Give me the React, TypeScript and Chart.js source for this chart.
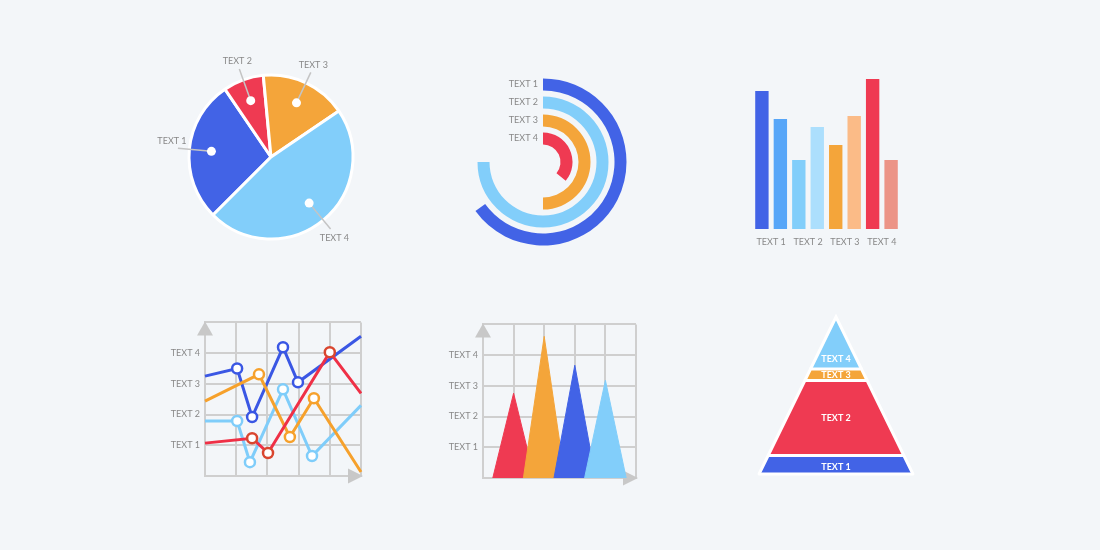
import React, { useEffect, useRef } from "react";
import { Chart, registerables } from "chart.js";

Chart.register(...registerables);
Chart.defaults.font.family = "Lato, 'Open Sans', sans-serif";
Chart.defaults.color = "#8a8a8a";

const BG = "#f3f6f9";
const GRID = "#cfcfcf";
const LABEL = "#888888";

const BLUE = "#4263e6";
const MID_BLUE = "#57a6f8";
const LIGHT_BLUE = "#82cefa";
const PALE_BLUE = "#acdffd";
const ORANGE = "#f4a53a";
const PEACH = "#fbbb87";
const RED = "#ef3a52";
const SALMON = "#ec9487";

// pie (top left)
const pieLabels = ["TEXT 1", "TEXT 2", "TEXT 3", "TEXT 4"];
const pieValues = [28, 8, 17, 47];

// rings (top middle), share of a full turn in %
const ringLabels = ["TEXT 1", "TEXT 2", "TEXT 3", "TEXT 4"];
const ringValues = [65, 75, 50, 36];

// bars (top right)
const barCategories = ["TEXT 1", "TEXT 2", "TEXT 3", "TEXT 4"];
const barSeriesA = [138, 69, 84, 150];
const barSeriesB = [110, 102, 113, 69];

// lines (bottom left)
const yTickLabels = ["TEXT 1", "TEXT 2", "TEXT 3", "TEXT 4"];
const blueLine = [
  { x: 0, y: 3.25 }, { x: 1.03, y: 3.5 }, { x: 1.51, y: 1.92 },
  { x: 2.5, y: 4.19 }, { x: 2.98, y: 3.05 }, { x: 5, y: 4.55 },
];
const orangeLine = [
  { x: 0, y: 2.44 }, { x: 1.73, y: 3.31 }, { x: 2.72, y: 1.27 },
  { x: 3.49, y: 2.53 }, { x: 5, y: 0.13 },
];
const lightLine = [
  { x: 0, y: 1.79 }, { x: 1.03, y: 1.79 }, { x: 1.44, y: 0.45 },
  { x: 2.5, y: 2.82 }, { x: 3.43, y: 0.65 }, { x: 5, y: 2.3 },
];
const redLine = [
  { x: 0, y: 1.07 }, { x: 1.51, y: 1.23 }, { x: 2.02, y: 0.75 },
  { x: 4.0, y: 4.03 }, { x: 5, y: 2.69 },
];

// peaks (bottom middle)
const peakX = [1, 2, 3, 4];
const peakHeights = [2.76, 4.61, 3.67, 3.18];

// pyramid (bottom right), height of each layer from the base up
const pyramidLabels = ["TEXT 1", "TEXT 2", "TEXT 3", "TEXT 4"];
const pyramidValues = [18.5, 75, 11.5, 52];

const baseOptions = {
  animation: false,
  responsive: true,
  maintainAspectRatio: false,
  events: [],
  plugins: { legend: { display: false }, tooltip: { enabled: false } },
};

// arrows at the ends of the axes
const axisArrows = {
  id: "axisArrows",
  beforeDatasetsDraw(chart: any) {
    const { ctx, chartArea } = chart;
    const { left, top, right, bottom } = chartArea;
    ctx.save();
    ctx.fillStyle = "#c8c8c8";
    ctx.beginPath();
    ctx.moveTo(left, top - 1);
    ctx.lineTo(left + 8, top + 13);
    ctx.lineTo(left - 8, top + 13);
    ctx.closePath();
    ctx.fill();
    ctx.beginPath();
    ctx.moveTo(right + 2, bottom);
    ctx.lineTo(right - 13, bottom - 7.5);
    ctx.lineTo(right - 13, bottom + 7.5);
    ctx.closePath();
    ctx.fill();
    ctx.restore();
  },
};

const pieLabelPlugin = {
  id: "pieLabels",
  afterDatasetsDraw(chart: any) {
    const ctx = chart.ctx;
    const meta = chart.getDatasetMeta(0);
    meta.data.forEach((arc: any, i: number) => {
      const { x, y, startAngle, endAngle, outerRadius } = arc.getProps(
        ["x", "y", "startAngle", "endAngle", "outerRadius"],
        true
      );
      const mid = (startAngle + endAngle) / 2;
      const cx = Math.cos(mid);
      const cy = Math.sin(mid);
      const r = outerRadius;
      const endX = x + cx * r * 1.14;
      const endY = y + cy * r * 1.14;
      ctx.save();
      ctx.strokeStyle = "#c4c4c4";
      ctx.lineWidth = 1.5;
      ctx.beginPath();
      ctx.moveTo(x + cx * r * 0.73, y + cy * r * 0.73);
      ctx.lineTo(endX, endY);
      ctx.stroke();
      ctx.fillStyle = "#ffffff";
      ctx.beginPath();
      ctx.arc(x + cx * r * 0.73, y + cy * r * 0.73, 4.5, 0, Math.PI * 2);
      ctx.fill();
      ctx.fillStyle = LABEL;
      ctx.font = "9px Lato";
      ctx.textAlign = "center";
      ctx.textBaseline = "middle";
      ctx.fillText(
        chart.data.labels[i],
        endX + cx * 6,
        endY + (cy < 0 ? -7.5 : 9)
      );
      ctx.restore();
    });
  },
};

const ringLabelPlugin = {
  id: "ringLabels",
  afterDatasetsDraw(chart: any) {
    const ctx = chart.ctx;
    chart.data.datasets.forEach((ds: any, i: number) => {
      if (!ds.label) return;
      const arc: any = chart.getDatasetMeta(i).data[0];
      const mid = (arc.innerRadius + arc.outerRadius) / 2;
      ctx.save();
      ctx.fillStyle = LABEL;
      ctx.font = "9px Lato";
      ctx.textAlign = "right";
      ctx.textBaseline = "middle";
      ctx.fillText(ds.label, arc.x - 5, arc.y - mid);
      ctx.restore();
    });
  },
};

const pyramidLabelAt = [0.4, 0.5, 0.5, 0.2];
const pyramidLabelPlugin = {
  id: "pyramidLabels",
  afterDatasetsDraw(chart: any) {
    const ctx = chart.ctx;
    const { x: xs, y: ys } = chart.scales;
    const meta = chart.getDatasetMeta(0);
    const first: any = meta.data[0];
    const last: any = meta.data[meta.data.length - 1];
    // white outline along the base
    ctx.save();
    ctx.strokeStyle = "#ffffff";
    ctx.lineWidth = 3;
    ctx.lineCap = "round";
    ctx.beginPath();
    ctx.moveTo(first.x, first.y);
    ctx.lineTo(last.x, last.y);
    ctx.stroke();
    ctx.restore();
    let base = 0;
    pyramidValues.forEach((v, i) => {
      const py = ys.getPixelForValue(base + v * pyramidLabelAt[i]);
      ctx.save();
      ctx.fillStyle = "#ffffff";
      ctx.font = "bold 9px Lato";
      ctx.textAlign = "center";
      ctx.textBaseline = "middle";
      ctx.fillText(pyramidLabels[i], xs.getPixelForValue(0), py);
      ctx.restore();
      base += v;
    });
  },
};

const gridAxis = (extra: any) => ({
  type: "linear",
  min: 0,
  max: 5,
  grid: { color: GRID, lineWidth: 2, drawTicks: false },
  border: { color: GRID, width: 2 },
  ...extra,
});

const yTicks = {
  stepSize: 1,
  padding: 5,
  color: LABEL,
  font: { size: 9 },
  callback: (v: number) => yTickLabels[v - 1] ?? "",
};

function pieConfig(): any {
  return {
    type: "pie",
    data: {
      labels: pieLabels,
      datasets: [
        {
          data: pieValues,
          backgroundColor: [BLUE, RED, ORANGE, LIGHT_BLUE],
          borderColor: "#ffffff",
          borderWidth: 3,
        },
      ],
    },
    options: {
      ...baseOptions,
      rotation: -135,
      layout: { padding: { left: 56.5, right: 56.5, top: 46.5, bottom: 46.5 } },
    },
    plugins: [pieLabelPlugin],
  };
}

function ringConfig(): any {
  const colors = [BLUE, LIGHT_BLUE, ORANGE, RED];
  const datasets: any[] = [];
  ringValues.forEach((v, i) => {
    datasets.push({
      label: ringLabels[i],
      data: [v, 100 - v],
      backgroundColor: [colors[i], "transparent"],
      borderWidth: 0,
      weight: 12,
    });
    if (i < ringValues.length - 1) {
      datasets.push({
        label: "",
        data: [1],
        backgroundColor: ["transparent"],
        borderWidth: 0,
        weight: 6,
      });
    }
  });
  return {
    type: "doughnut",
    data: { labels: ["value", "rest"], datasets },
    options: {
      ...baseOptions,
      cutout: 17.5,
      layout: { padding: 6.5 },
    },
    plugins: [ringLabelPlugin],
  };
}

function barConfig(): any {
  return {
    type: "bar",
    data: {
      labels: barCategories,
      datasets: [
        { data: barSeriesA, backgroundColor: [BLUE, LIGHT_BLUE, ORANGE, RED] },
        { data: barSeriesB, backgroundColor: [MID_BLUE, PALE_BLUE, PEACH, SALMON] },
      ],
    },
    options: {
      ...baseOptions,
      datasets: { bar: { categoryPercentage: 1, barPercentage: 0.725, borderWidth: 0 } },
      layout: { padding: 0 },
      scales: {
        x: {
          grid: { display: false, drawTicks: false },
          border: { display: false },
          ticks: { color: LABEL, font: { size: 9 }, padding: 8 },
          afterFit: (s: any) => {
            s.height = 24;
          },
        },
        y: { display: false, min: 0, max: 160 },
      },
    },
  };
}

function lineConfig(): any {
  const series = [
    { data: redLine, color: "#ef3046", marker: "#d9462f" },
    { data: orangeLine, color: "#f6a12c", marker: "#f6a12c" },
    { data: blueLine, color: "#3a57e4", marker: "#3a57e4" },
    { data: lightLine, color: "#7fcdfa", marker: "#7fcdfa" },
  ];
  return {
    type: "scatter",
    data: {
      datasets: series.map((s) => ({
        data: s.data,
        showLine: true,
        borderColor: s.color,
        borderWidth: 3,
        pointRadius: s.data.map((_, k) => (k === 0 || k === s.data.length - 1 ? 0 : 5)),
        pointBackgroundColor: "#ffffff",
        pointBorderColor: s.marker,
        pointBorderWidth: 2.5,
        clip: false,
      })),
    },
    options: {
      ...baseOptions,
      layout: { padding: { top: 10, bottom: 14, right: 6, left: 0 } },
      scales: {
        x: gridAxis({
          ticks: { stepSize: 1, display: false },
          afterFit: (s: any) => {
            s.height = 0;
          },
        }),
        y: gridAxis({
          ticks: yTicks,
          afterFit: (s: any) => {
            s.width = 45;
          },
        }),
      },
    },
    plugins: [axisArrows],
  };
}

function peakConfig(): any {
  const colors = [RED, ORANGE, BLUE, LIGHT_BLUE];
  const halfBase = 0.68;
  return {
    type: "scatter",
    data: {
      datasets: peakX.map((px, i) => ({
        data: [
          { x: px - halfBase, y: 0 },
          { x: px, y: peakHeights[i] },
          { x: px + halfBase, y: 0 },
        ],
        showLine: true,
        fill: "origin",
        backgroundColor: colors[i],
        borderColor: colors[i],
        borderWidth: 1,
        pointRadius: 0,
        order: peakX.length - i,
      })),
    },
    options: {
      ...baseOptions,
      layout: { padding: { top: 10, bottom: 14, right: 6, left: 0 } },
      scales: {
        x: gridAxis({
          ticks: { stepSize: 1, display: false },
          afterFit: (s: any) => {
            s.height = 0;
          },
        }),
        y: gridAxis({
          ticks: yTicks,
          afterFit: (s: any) => {
            s.width = 45;
          },
        }),
      },
    },
    plugins: [axisArrows],
  };
}

function pyramidConfig(): any {
  const colors = [BLUE, RED, ORANGE, LIGHT_BLUE];
  const apex = pyramidValues.reduce((a, b) => a + b, 0);
  const slope = 0.49; // half width per unit of height
  const half = (h: number) => (apex - h) * slope;
  let base = 0;
  const datasets = pyramidValues.map((v, i) => {
    const b = base;
    const t = base + v;
    base = t;
    const pts =
      half(t) > 0.01
        ? [
            { x: -half(b), y: b },
            { x: -half(t), y: t },
            { x: half(t), y: t },
            { x: half(b), y: b },
          ]
        : [
            { x: -half(b), y: b },
            { x: 0, y: t },
            { x: half(b), y: b },
          ];
    return {
      data: pts,
      showLine: true,
      fill: { value: b },
      backgroundColor: colors[i],
      borderColor: "#ffffff",
      borderWidth: 3,
      pointRadius: 0,
      order: i,
      clip: false,
    };
  });
  return {
    type: "scatter",
    data: { datasets },
    options: {
      ...baseOptions,
      layout: { padding: 4 },
      scales: {
        x: { type: "linear", display: false, min: -80, max: 80 },
        y: { type: "linear", display: false, min: 0, max: 160 },
      },
    },
    plugins: [pyramidLabelPlugin],
  };
}

type Box = { left: number; top: number; width: number; height: number };

function ChartBox({ box, build }: { box: Box; build: () => any }) {
  const canvasRef = useRef<HTMLCanvasElement>(null);
  useEffect(() => {
    if (!canvasRef.current) return;
    const chart = new Chart(canvasRef.current, build());
    return () => chart.destroy();
  }, []);
  return (
    <div style={{ position: "absolute", ...box }}>
      <canvas ref={canvasRef} />
    </div>
  );
}

export default function App() {
  document.body.style.margin = "0";
  document.body.style.background = BG;
  return (
    <div
      style={{
        position: "relative",
        width: 1100,
        height: 550,
        background: BG,
        overflow: "hidden",
      }}
    >
      <ChartBox box={{ left: 131, top: 27, width: 280, height: 260 }} build={pieConfig} />
      <ChartBox box={{ left: 453, top: 72, width: 180, height: 180 }} build={ringConfig} />
      <ChartBox box={{ left: 749, top: 69, width: 155, height: 184 }} build={barConfig} />
      <ChartBox box={{ left: 160, top: 312, width: 207, height: 178 }} build={lineConfig} />
      <ChartBox box={{ left: 438, top: 314, width: 204, height: 178 }} build={peakConfig} />
      <ChartBox box={{ left: 752, top: 310, width: 168, height: 168 }} build={pyramidConfig} />
    </div>
  );
}
